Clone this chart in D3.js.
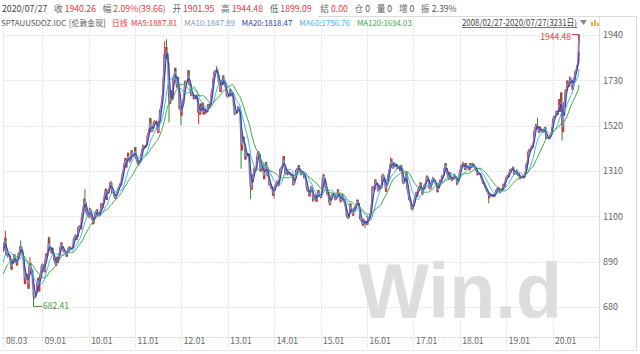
<!DOCTYPE html>
<html><head><meta charset="utf-8">
<script src="https://cdn.jsdelivr.net/npm/d3@7"></script>
<style>body{margin:0;background:#fff}svg{display:block}</style>
</head><body>
<svg id="c" width="640" height="354"></svg>
<script>
// Weekly closes (Fridays). Warm-up weeks (Sep 2007 - Feb 2008) only feed the moving averages.
const warmup = [710,735,743,737,751,765,785,807,835,787,822,783,801,797,807,840,859,896,882,914,910,920,906,946];
const close2008 = [972,972,1001,920,932,914,925,916,889,853,885,898,924,887,903,872,904,929,931,961,957,928,914,862,786,830,833,806,764,866,884,835,850,787,728,722,735,745,795,815,752,823,838,872];
const close2009 = [878,853,841,899,928,914,941,1002,943,940,930,954,924,896,882,870,912,884,915,929,958,979,962,939,935,941,932,913,938,953,955,956,945,952,955,996,1006,1013,990,1003,1049,1051,1056,1040,1096,1118,1145,1182,1165,1119,1107,1104];
const close2010 = [1096,1137,1130,1091,1083,1063,1092,1117,1118,1132,1102,1107,1102,1125,1160,1137,1155,1179,1208,1228,1176,1212,1219,1229,1256,1256,1208,1210,1211,1188,1181,1204,1215,1228,1237,1250,1246,1275,1297,1317,1346,1370,1326,1358,1394,1367,1353,1362,1406,1386,1378,1380,1421];
const close2011 = [1369,1361,1342,1341,1349,1360,1388,1410,1429,1421,1418,1428,1429,1474,1486,1504,1556,1491,1492,1512,1536,1542,1530,1539,1502,1486,1542,1592,1601,1628,1663,1744,1852,1829,1884,1855,1812,1657,1620,1636,1683,1642,1745,1755,1788,1724,1697,1746,1712,1598,1606,1566];
const close2012 = [1617,1639,1663,1727,1725,1724,1725,1777,1710,1711,1659,1662,1669,1643,1659,1643,1663,1645,1580,1592,1572,1622,1591,1627,1572,1598,1578,1589,1583,1619,1603,1621,1616,1671,1692,1739,1769,1775,1772,1781,1757,1724,1712,1676,1731,1714,1752,1712,1705,1696,1657,1656];
const close2013 = [1656,1662,1687,1658,1667,1667,1609,1572,1576,1577,1592,1608,1596,1580,1476,1405,1462,1468,1437,1363,1386,1393,1383,1388,1296,1234,1223,1284,1295,1322,1311,1313,1375,1396,1396,1387,1308,1333,1338,1310,1272,1315,1352,1315,1287,1288,1244,1250,1230,1235,1196,1214];
const close2014 = [1237,1247,1254,1264,1240,1262,1318,1323,1326,1338,1379,1334,1294,1303,1318,1293,1300,1302,1290,1293,1292,1245,1252,1274,1315,1316,1320,1337,1310,1307,1294,1310,1305,1280,1287,1268,1231,1216,1217,1192,1222,1238,1231,1171,1177,1190,1201,1167,1191,1222,1195,1195];
const close2015 = [1186,1217,1276,1293,1279,1234,1228,1203,1212,1167,1152,1183,1199,1201,1205,1203,1177,1179,1188,1225,1205,1190,1168,1180,1201,1173,1168,1159,1134,1099,1095,1094,1113,1159,1134,1121,1103,1137,1145,1137,1156,1177,1162,1142,1088,1081,1076,1057,1085,1075,1066,1076];
const close2016 = [1061,1098,1089,1097,1117,1158,1239,1228,1222,1271,1259,1255,1218,1221,1243,1234,1232,1290,1290,1273,1252,1214,1243,1275,1298,1316,1340,1366,1328,1323,1350,1336,1335,1341,1321,1327,1328,1310,1338,1316,1257,1252,1267,1275,1305,1225,1208,1178,1177,1160,1134,1133,1152];
const close2017 = [1173,1197,1210,1191,1220,1234,1238,1257,1227,1201,1229,1244,1248,1254,1287,1284,1268,1228,1228,1254,1268,1279,1271,1255,1256,1242,1212,1228,1254,1268,1258,1288,1284,1291,1325,1346,1320,1297,1280,1275,1304,1280,1266,1269,1274,1294,1287,1280,1248,1256,1275,1303];
const close2018 = [1320,1338,1332,1348,1333,1315,1347,1330,1323,1324,1313,1347,1325,1332,1345,1336,1323,1314,1320,1292,1302,1294,1298,1278,1270,1253,1255,1241,1231,1223,1214,1212,1184,1206,1201,1196,1194,1199,1192,1203,1222,1227,1234,1232,1209,1223,1223,1222,1248,1238,1257,1279];
const close2019 = [1285,1288,1282,1304,1318,1314,1322,1328,1293,1298,1302,1313,1292,1291,1291,1275,1286,1279,1286,1277,1284,1305,1341,1341,1399,1409,1400,1415,1426,1419,1441,1497,1513,1526,1520,1507,1488,1516,1497,1504,1489,1490,1505,1514,1459,1468,1462,1464,1460,1476,1478,1511];
const close2020 = [1552,1562,1557,1571,1589,1570,1584,1643,1585,1674,1530,1490,1625,1620,1683,1683,1729,1700,1703,1743,1735,1730,1685,1730,1743,1771,1775,1798,1810,1902];
// last daily bar 2020/07/27
const lastDay = {date: "2020-07-27", open: 1901.95, high: 1944.48, low: 1899.09, close: 1940.26};
// intraday extremes visible as wicks
const wickDates = ["2008-03-17","2008-07-15","2008-09-26","2008-10-24","2009-02-20","2009-12-03","2011-08-22","2011-09-06","2011-09-26","2011-12-29","2012-05-16","2012-10-04","2013-04-15","2013-06-28","2013-12-31","2015-12-17","2016-07-06","2018-08-16","2019-09-04","2020-03-16"];
const wickValues = [1033,988,912,682.41,1006,1226,1911,1920,1535,1523,1527,1795,1321,1180,1182,1046,1375,1160,1557,1451];

const yTicks = [680, 890, 1100, 1310, 1520, 1730, 1940];
const xTickDates = ["2008-03-01","2009-01-01","2010-01-01","2011-01-01","2012-01-01","2013-01-01","2014-01-01","2015-01-01","2016-01-01","2017-01-01","2018-01-01","2019-01-01","2020-01-01"];
const xTickLabels = ["08.03","09.01","10.01","11.01","12.01","13.01","14.01","15.01","16.01","17.01","18.01","19.01","20.01"];

const maNames = ["MA5","MA10","MA20","MA60","MA120"];
const maWeeks = [1, 2, 4, 12, 24];          // daily windows expressed in weeks
const maColors = ["#c8304a","#7f98c8","#3040b8","#38b8e4","#3aa848"];
const maLegend = ["MA5:1887.81","MA10:1847.89","MA20:1818.47","MA60:1756.76","MA120:1694.03"];

const header1 = [
  ["2020/07/27","#444",7],["收","#666",2],["1940.26","#e03a3a",7],["幅","#666",2],["2.09%(39.66)","#e03a3a",7],
  ["开","#666",2],["1901.95","#e03a3a",7],["高","#666",2],["1944.48","#e03a3a",7],["低","#666",2],["1899.09","#e03a3a",9],
  ["结","#666",2],["0.00","#e03a3a",7],["仓","#666",2],["0","#555",7],["量","#666",2],["0","#555",7],["增","#666",2],["0","#555",7],
  ["振","#666",2],["2.39%","#555",0]];
const header2 = [["SPTAUUSDOZ.IDC","#555",3],["[伦敦金现]","#555",7],["日线","#e03a3a",4]]
  .concat(maLegend.map((t,i)=>[t, i === 0 ? "#e03a3a" : maColors[i], 8]));
const rangeText = "2008/02/27-2020/07/27(3231日)";

const parse = d3.timeParse("%Y-%m-%d");
const svg = d3.select("#c");
const W = 640, H = 354;
const plotL = 3, plotR = 599, plotT = 16, plotB = 337;
const x = d3.scaleTime().domain([parse("2008-02-27"), parse(lastDay.date)]).range([3, 579]);
const y = d3.scaleLinear().domain([680, 1940]).range([307, 35]);
const FONT = "'Noto Sans CJK SC','Noto Sans',sans-serif";

// ---- data prep
const weekly = [].concat(warmup, close2008, close2009, close2010, close2011, close2012, close2013, close2014, close2015, close2016, close2017, close2018, close2019, close2020);
const t0 = new Date(2007, 8, 14);
const pts = weekly.map((c, i) => ({date: d3.timeDay.offset(t0, 7 * i), close: c}));
pts.push({date: parse(lastDay.date), close: lastDay.close, open: lastDay.open});
pts.forEach((p, i) => { if (p.open === undefined) p.open = i ? pts[i - 1].close : p.close; });
pts.forEach((p, i) => {
  p.ma = maWeeks.map(w => i + 1 >= w ? d3.mean(pts.slice(i + 1 - w, i + 1), d => d.close) : null);
});
const start = parse("2008-02-27");
const vis = pts.filter(p => p.date >= start);

// ---- frame & grid
svg.append("rect").attr("width", W).attr("height", H).attr("fill", "#fff");
const grid = svg.append("g");
grid.selectAll(".hg").data(yTicks).join("line")
  .attr("x1", plotL).attr("x2", plotR).attr("y1", d => Math.round(y(d)) + 0.5).attr("y2", d => Math.round(y(d)) + 0.5)
  .attr("stroke", "#e6e6e6").attr("stroke-dasharray", "2,1");
grid.selectAll(".vg").data(xTickDates).join("line")
  .attr("x1", d => Math.round(x(parse(d))) + 0.5).attr("x2", d => Math.round(x(parse(d))) + 0.5)
  .attr("y1", plotT).attr("y2", 349)
  .attr("stroke", "#e6e6e6").attr("stroke-dasharray", "2,1");
svg.append("line").attr("x1", plotL).attr("x2", plotR).attr("y1", plotB + 0.5).attr("y2", plotB + 0.5)
  .attr("stroke", "#c8c8c8").attr("stroke-dasharray", "1,1");
svg.append("line").attr("x1", plotR + 0.5).attr("x2", plotR + 0.5).attr("y1", plotT).attr("y2", 349).attr("stroke", "#dcdcdc");
svg.append("line").attr("x1", 318).attr("x2", 636).attr("y1", plotT + 0.5).attr("y2", plotT + 0.5).attr("stroke", "#dcdcdc");
svg.append("line").attr("x1", 636.5).attr("x2", 636.5).attr("y1", plotT).attr("y2", 350).attr("stroke", "#dcdcdc");
svg.append("line").attr("x1", 0).attr("x2", 637).attr("y1", 350.5).attr("y2", 350.5).attr("stroke", "#e4e4e4");

// watermark
svg.append("text").attr("x", 358).attr("y", 318).text("Win.d")
  .attr("font-family", "'Liberation Sans',Arial,sans-serif").attr("font-size", 78).attr("font-weight", "bold")
  .attr("textLength", 204).attr("lengthAdjust", "spacingAndGlyphs")
  .attr("fill", "#dddddd");

// axes labels
const yAxis = d3.axisRight(y).tickValues(yTicks).tickSize(0).tickPadding(0).tickFormat(d3.format("d"));
const ya = svg.append("g").attr("transform", `translate(603,0)`).call(yAxis);
ya.select(".domain").remove();
ya.selectAll("text").attr("font-family", FONT).attr("font-size", 9).attr("fill", "#666");

const xa = svg.append("g").attr("transform", `translate(0,339)`)
  .call(d3.axisBottom(x).tickValues(xTickDates.map(parse)).tickSize(0).tickPadding(0)
    .tickFormat((d, i) => xTickLabels[i]));
xa.select(".domain").remove();
xa.selectAll("text").attr("text-anchor", "start").attr("dx", 2).attr("dy", "0.6em")
  .attr("font-family", FONT).attr("font-size", 8.5).attr("fill", "#666");

// ---- candles
svg.append("clipPath").attr("id", "pc").append("rect")
  .attr("x", plotL).attr("y", plotT).attr("width", plotR - plotL).attr("height", plotB - plotT);
const plot = svg.append("g").attr("clip-path", "url(#pc)");
const up = "#e8302c", down = "#2e8b2e";
plot.append("g").selectAll("line").data(vis).join("line")
  .attr("x1", d => x(d.date)).attr("x2", d => x(d.date))
  .attr("y1", d => y(d.open)).attr("y2", d => { const a = y(d.open), b = y(d.close); return Math.abs(a - b) < 1.5 ? a + (b <= a ? -1.5 : 1.5) : b; })
  .attr("stroke", d => d.close >= d.open ? up : down).attr("stroke-width", 1.5);
// wicks
const wicks = wickDates.map((ds, i) => {
  const dt = parse(ds);
  const c = vis.reduce((a, b) => Math.abs(b.date - dt) < Math.abs(a.date - dt) ? b : a);
  return {c, date: dt, v: wickValues[i]};
});
wicks.push({c: vis[vis.length - 1], date: parse(lastDay.date), v: lastDay.high});
wicks.push({c: vis[vis.length - 1], date: parse(lastDay.date), v: lastDay.low});
plot.append("g").selectAll("line").data(wicks).join("line")
  .attr("x1", d => x(d.date)).attr("x2", d => x(d.date))
  .attr("y1", d => y(d.v))
  .attr("y2", d => d.v > Math.max(d.c.open, d.c.close) ? y(Math.max(d.c.open, d.c.close)) : y(Math.min(d.c.open, d.c.close)))
  .attr("stroke", d => d.c.close >= d.c.open ? up : down).attr("stroke-width", 1);

// ---- moving averages
maNames.forEach((n, k) => {
  const line = d3.line().defined(d => d.ma[k] != null).x(d => x(d.date)).y(d => y(d.ma[k]));
  plot.append("path").datum(vis).attr("d", line).attr("fill", "none")
    .attr("stroke", maColors[k]).attr("stroke-width", k < 3 ? 1.1 : 1).attr("opacity", k === 0 ? 0.8 : 1);
});

// ---- annotations
const lowDate = parse("2008-10-24"), lowV = 682.41;
svg.append("line").attr("x1", x(lowDate)).attr("x2", 42).attr("y1", y(lowV)).attr("y2", y(lowV)).attr("stroke", "#4a9a3a");
svg.append("text").attr("x", 43).attr("y", y(lowV)).attr("dy", "0.35em").text("682.41")
  .attr("font-family", FONT).attr("font-size", 8.5).attr("fill", "#4a9a3a");
svg.append("line").attr("x1", 572).attr("x2", x(parse(lastDay.date))).attr("y1", y(lastDay.high) + 0.5).attr("y2", y(lastDay.high) + 0.5).attr("stroke", "#e03a3a");
svg.append("text").attr("x", 571).attr("y", y(lastDay.high) + 2.5).attr("dy", "0.35em").attr("text-anchor", "end").text("1944.48")
  .attr("font-family", FONT).attr("font-size", 8.5).attr("fill", "#e03a3a");

// ---- header rows
function row(items, x0, x1, base) {
  const g = svg.append("g");
  function lay(fs) {
    g.selectAll("*").remove();
    let cx = x0;
    items.forEach(([t, c, gap]) => {
      const el = g.append("text").attr("x", cx).attr("y", base).text(t)
        .attr("font-family", FONT).attr("font-size", fs).attr("fill", c);
      cx += el.node().getComputedTextLength() + gap * fs / 9;
    });
    return cx - x0;
  }
  const w = lay(9);
  lay(9 * (x1 - x0) / w);
}
row(header1, 2, 457, 11.5);
row(header2, 1, 420, 25.5);
svg.append("text").attr("x", 462).attr("y", 25.5).text(rangeText)
  .attr("font-family", FONT).attr("font-size", 9).attr("fill", "#444")
  .attr("textLength", 115).attr("lengthAdjust", "spacingAndGlyphs");
svg.append("line").attr("x1", 462).attr("x2", 577).attr("y1", 27.5).attr("y2", 27.5).attr("stroke", "#555").attr("stroke-width", 0.8);
svg.append("path").attr("d", "M580,20 L587,20 L583.5,25 Z").attr("fill", "#8a8a8a");
const ic = svg.append("g").attr("fill", "#e8b040");
ic.append("rect").attr("x", 591).attr("y", 22).attr("width", 2).attr("height", 4);
ic.append("rect").attr("x", 594).attr("y", 20).attr("width", 2).attr("height", 6);
ic.append("rect").attr("x", 597).attr("y", 23).attr("width", 2).attr("height", 3);
</script>
</body></html>
